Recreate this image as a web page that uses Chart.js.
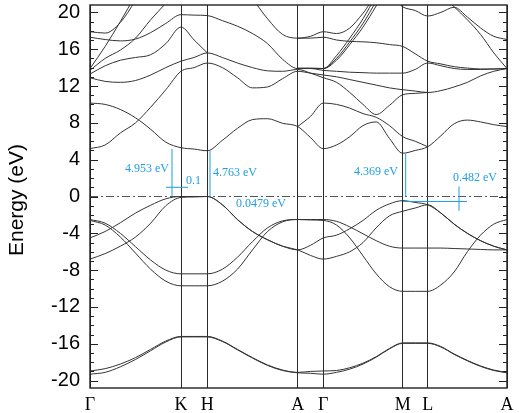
<!DOCTYPE html>
<html>
<head>
<meta charset="utf-8">
<script src="https://cdn.jsdelivr.net/npm/chart.js@4.4.0/dist/chart.umd.min.js"></script>
<style>
  html, body { margin: 0; padding: 0; background: #fff; }
</style>
</head>
<body>
<canvas id="bandas" width="519" height="413"></canvas>
<script>
// caminho de alta simetria (distância k, unidades arbitrárias)
const kTicks = [0, 0.91, 1.173, 2.077, 2.333, 3.127, 3.377, 4.17];
const kLabels = ["Γ", "K", "H", "A", "Γ", "M", "L", "A"];
const energyTicks = [-20, -16, -12, -8, -4, 0, 4, 8, 12, 16, 20];

// pontos k onde as energias foram lidas
const kGrid = [0, 0.1517, 0.3033, 0.455, 0.6067, 0.7583, 0.91, 1.0415, 1.173,
  1.3237, 1.4743, 1.625, 1.7757, 1.9263, 2.077, 2.205, 2.333,
  2.4653, 2.5977, 2.73, 2.8623, 2.9947, 3.127, 3.252, 3.377,
  3.5092, 3.6413, 3.7735, 3.9057, 4.0378, 4.17];

// bandas (eV) - Γ-K | K-H | H-A | A-Γ | Γ-M | M-L | L-A
const lowBand1 = [-18.95, -18.7, -18.2, -17.5, -16.6, -15.7, -15.2, -15.2, -15.2,
  -15.7, -16.6, -17.5, -18.3, -18.85, -19.1, -19.0, -18.95,
  -18.9, -18.6, -18.1, -17.4, -16.5, -15.9, -15.9, -15.9,
  -16.3, -17.1, -17.8, -18.4, -18.85, -19.1];
const lowBand2 = [-19.3, -19.1, -18.5, -17.7, -16.75, -15.8, -15.25, -15.25, -15.25,
  -15.75, -16.65, -17.55, -18.35, -18.9, -19.15, -19.2, -19.3,
  -19.1, -18.75, -18.2, -17.45, -16.55, -15.95, -15.95, -15.95,
  -16.35, -17.15, -17.85, -18.45, -18.9, -19.15];
const valenceA = [-2.5, -2.9, -4.0, -5.45, -6.9, -8.0, -8.4, -8.4, -8.4,
  -7.9, -6.6, -4.9, -3.4, -2.65, -2.5, -2.5, -2.5,
  -2.7, -3.3, -4.05, -4.8, -5.4, -5.6, -5.6, -5.6,
  -5.6, -5.65, -5.7, -5.75, -5.8, -5.8];
const valenceB = [-2.6, -3.1, -4.4, -6.15, -7.9, -9.2, -9.7, -9.7, -9.7,
  -9.2, -7.9, -5.8, -3.8, -2.75, -2.5, -2.55, -2.6,
  -3.1, -4.5, -6.45, -8.4, -9.8, -10.3, -10.3, -10.3,
  -9.6, -8.2, -6.0, -4.2, -3.0, -2.5];
const valenceC = [-4.5, -3.8, -2.85, -1.8, -0.95, -0.25, 0.0, 0.0, 0.0,
  -0.9, -2.5, -3.8, -4.7, -5.4, -5.8, -5.3, -4.5,
  -4.2, -3.5, -2.6, -1.5, -0.8, -0.45, -0.65, -0.9,
  -1.8, -3.0, -4.0, -4.8, -5.4, -5.8];
const valenceD = [-6.8, -6.2, -5.4, -4.4, -2.9, -1.0, -0.1, -0.05, 0.0,
  -0.9, -2.5, -3.8, -4.7, -5.4, -5.8, -6.4, -6.8,
  -6.5, -6.0, -5.0, -3.4, -2.1, -1.6, -1.25, -0.9,
  -1.8, -3.0, -4.0, -4.8, -5.4, -5.8];
const conducP = [10.15, 10.0, 9.45, 8.55, 7.3, 5.9, 5.3, 5.15, 4.97,
  6.1, 7.4, 8.35, 8.45, 7.95, 7.6, 6.4, 5.2,
  5.6, 6.5, 7.7, 8.1, 6.3, 4.7, 5.0, 5.4,
  6.6, 7.9, 8.3, 8.1, 7.8, 7.6];
const conducR = [null, null, null, null, null, null, null, null, null,
  null, null, null, null, null, 7.6, 8.7, 10.15,
  10.0, 9.6, 9.0, 8.6, 7.7, 6.5, 6.0, 5.4,
  null, null, null, null, null, null];
const conducQ = [5.2, 5.6, 6.9, 8.0, 9.7, 11.6, 13.6, 14.0, 14.5,
  14.0, 12.9, 11.8, 11.9, 12.8, 13.6, 13.4, 13.2,
  13.0, 12.7, 12.4, 12.1, 11.8, 11.6, 11.45, 11.3,
  11.5, 11.9, 12.4, 13.1, 13.6, 13.9];
const conducV = [12.9, 12.5, 12.4, 12.6, 13.2, 14.0, 14.7, 15.1, 15.6,
  15.1, 14.5, 14.0, 13.65, 13.6, 13.8, 13.4, 12.9,
  12.4, 11.3, 10.0, 8.9, 9.9, 11.05, 11.2, 11.3,
  null, null, null, null, null, null];
const conducC3 = [13.3, 14.2, 14.8, 15.1, 15.4, 16.6, 18.4, 17.0, 15.6,
  null, null, null, null, null, 13.9, 13.9, 13.7,
  13.6, 13.5, 13.45, 13.4, 13.4, 13.4, 13.8, 14.5,
  14.2, 13.9, 13.8, 13.8, 13.85, 13.9];
const conducB2 = [17.3, 17.05, 16.9, 17.1, 17.8, 18.8, 19.75, 19.7, 19.65,
  19.1, 18.5, 17.7, 16.6, 14.9, 13.9, 13.9, 13.9,
  14.8, 16.5, 18.4, 20.7, 23, 25, null, null,
  null, null, null, null, null, null];
const conducU = [17.9, 17.75, 18.9, 21.3, 24, 25, 25.5, 25, 24,
  23.5, 22.8, 21.4, 19.3, 17.6, 17.2, 17.4, 17.9,
  17.7, 18.3, 19.9, 21.7, 21.9, 20.6, 20.2, 19.6,
  20.0, 20.55, 19.5, 18.3, 17.4, 17.05];
const conduc17 = [null, null, null, null, null, null, null, null, null,
  null, null, null, null, null, 17.2, 17.2, 17.3,
  17.0, 16.85, 16.8, 16.7, 16.5, 16.3, 15.5, 14.7,
  14.4, 14.1, 13.95, 13.85, 13.85, 13.9];
const conducC1 = [13.9, 16.3, 19.0, 21.8, 24, 25, 25, null, null,
  null, null, null, null, null, 13.95, 13.95, 13.9,
  15.3, 17.2, 19.3, 21.8, 24, 25, null, null,
  null, null, null, null, null, null];
const conducC5 = [13.7, 15.0, 15.9, 17.2, 19.2, 21.0, 23, null, null,
  null, null, null, null, null, 13.9, 13.9, 13.9,
  15.0, 16.8, 18.8, 21.2, 23.5, 25, null, null,
  null, null, null, null, null, null];
const conducTop = [null, null, null, null, null, null, null, null, null,
  null, null, null, null, null, null, null, null,
  null, null, null, null, null, 23.5, 23, 22.5,
  21.8, 20.6, 19.2, 17.6, 15.6, 13.9];

const bandas = [lowBand1, lowBand2, valenceA, valenceB, valenceC, valenceD,
  conducP, conducR, conducQ, conducV, conducC3, conducB2, conducU,
  conduc17, conducC1, conducC5, conducTop];

const azul = "#1E9DE3";

// linhas e textos dos gaps (em coordenadas k, E)
const gapLinhas = [
  [0.82, 0, 0.82, 5.15],
  [0.76, 1.0, 0.98, 1.0],
  [1.2, 0, 1.2, 4.95],
  [3.157, 0, 3.157, 4.65],
  [3.13, -0.54, 3.77, -0.54],
  [3.69, 1.09, 3.69, -1.55],
];
const gapTextos = [
  ["4.953 eV", 0.79, 2.95, "right"],
  ["0.1", 0.96, 1.7, "left"],
  ["4.763 eV", 1.23, 2.6, "left"],
  ["0.0479 eV", 1.46, -0.8, "left"],
  ["4.369 eV", 3.08, 2.63, "right"],
  ["0.482 eV", 3.63, 2.06, "left"],
];

const moldura = {
  id: "moldura",
  afterDatasetsDraw(chart) {
    const { ctx, chartArea: a, scales } = chart;
    const y = scales.y;
    ctx.save();
    ctx.strokeStyle = "#222";
    ctx.lineWidth = 1;
    // marcas do eixo y, para dentro, dos dois lados
    for (let v = Math.ceil(y.min); v <= Math.floor(y.max); v++) {
      const py = Math.round(y.getPixelForValue(v)) + 0.5;
      const len = v % 4 === 0 ? 8 : 4;
      ctx.beginPath();
      ctx.moveTo(a.left, py);
      ctx.lineTo(a.left + len, py);
      ctx.moveTo(a.right - len, py);
      ctx.lineTo(a.right, py);
      ctx.stroke();
    }
    ctx.lineWidth = 1.4;
    ctx.strokeRect(a.left, a.top, a.right - a.left, a.bottom - a.top);

    // anotações dos gaps
    const x = scales.x;
    ctx.strokeStyle = azul;
    ctx.lineWidth = 1;
    gapLinhas.forEach(([k1, e1, k2, e2]) => {
      ctx.beginPath();
      ctx.moveTo(x.getPixelForValue(k1), y.getPixelForValue(e1));
      ctx.lineTo(x.getPixelForValue(k2), y.getPixelForValue(e2));
      ctx.stroke();
    });
    ctx.fillStyle = azul;
    ctx.font = '12px "Liberation Serif", "Times New Roman", serif';
    ctx.textBaseline = "middle";
    gapTextos.forEach(([txt, k, e, al]) => {
      ctx.textAlign = al;
      ctx.fillText(txt, x.getPixelForValue(k), y.getPixelForValue(e));
    });
    ctx.restore();
  },
  afterDraw(chart) {
    const { ctx } = chart;
    ctx.save();
    ctx.translate(17, 200);
    ctx.rotate(-Math.PI / 2);
    ctx.fillStyle = "#000";
    ctx.font = '21px "Liberation Sans", Arial, sans-serif';
    ctx.textAlign = "center";
    ctx.textBaseline = "middle";
    ctx.fillText("Energy (eV)", 0, 0);
    ctx.restore();
  },
};

const datasets = bandas.map((b) => ({
  data: kGrid.map((k, i) => ({ x: k, y: b[i] })),
  borderColor: "#333",
  borderWidth: 1,
  pointRadius: 0,
  fill: false,
  spanGaps: false,
  cubicInterpolationMode: "monotone",
}));

// nível de Fermi
datasets.push({
  data: [{ x: kTicks[0], y: 0 }, { x: kTicks[kTicks.length - 1], y: 0 }],
  borderColor: "#555",
  borderWidth: 1,
  borderDash: [8, 3, 2, 3],
  pointRadius: 0,
  fill: false,
});

new Chart(document.getElementById("bandas"), {
  type: "line",
  data: { datasets },
  options: {
    responsive: false,
    animation: false,
    layout: { padding: { top: 5, right: 12, left: 0, bottom: 0 } },
    plugins: { legend: { display: false }, tooltip: { enabled: false } },
    scales: {
      x: {
        type: "linear",
        min: kTicks[0],
        max: kTicks[kTicks.length - 1],
        afterBuildTicks: (ax) => {
          ax.ticks = kTicks.map((v) => ({ value: v }));
        },
        afterFit: (ax) => {
          ax.height = 25;
          ax.paddingLeft = 0;
          ax.paddingRight = 0;
        },
        grid: { color: "#2b2b2b", lineWidth: 1, drawTicks: false },
        border: { display: false },
        ticks: {
          autoSkip: false,
          maxRotation: 0,
          padding: 6,
          color: "#000",
          font: { family: '"Liberation Serif", "Times New Roman", serif', size: 18 },
          callback: (v, i) => kLabels[i],
        },
      },
      y: {
        min: -20.8,
        max: 20.8,
        afterBuildTicks: (ax) => {
          ax.ticks = energyTicks.map((v) => ({ value: v }));
        },
        afterFit: (ax) => {
          ax.width = 90;
          ax.paddingTop = 0;
          ax.paddingBottom = 0;
        },
        grid: { display: false, drawTicks: false },
        border: { display: false },
        ticks: {
          padding: 10,
          color: "#000",
          font: { family: '"Liberation Sans", Arial, sans-serif', size: 20 },
        },
      },
    },
  },
  plugins: [moldura],
});
</script>
</body>
</html>
